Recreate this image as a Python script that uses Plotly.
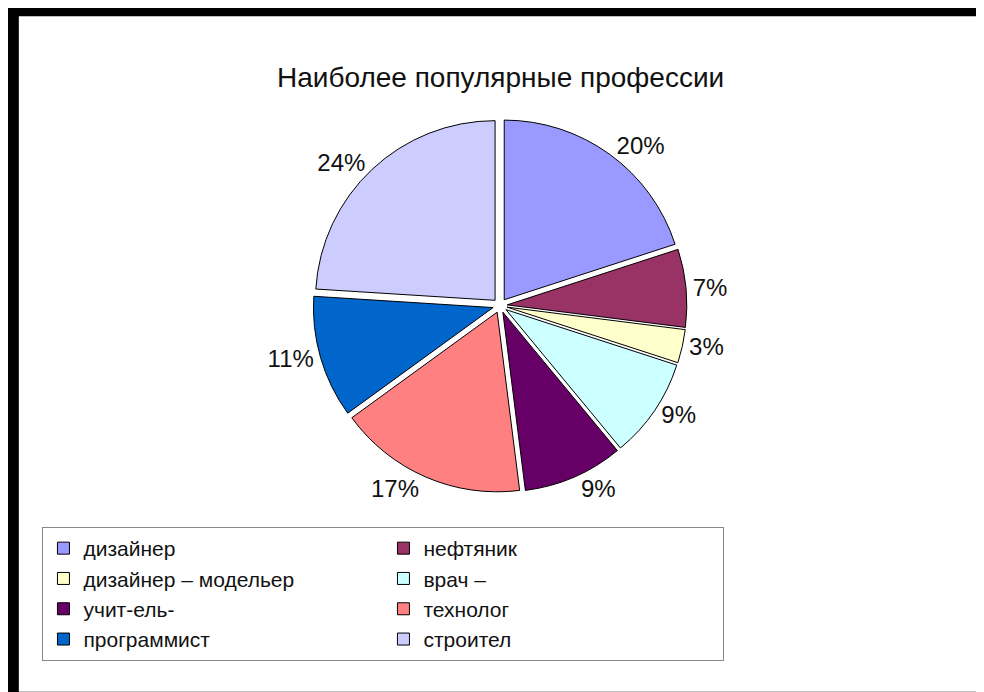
import plotly.graph_objects as go

labels = ["дизайнер", "нефтяник", "дизайнер – модельер", "врач –", "учит-ель-", "технолог", "программист", "строител"]
values = [20, 7, 3, 9, 9, 17, 11, 24]
colors = ["#9999FF", "#993366", "#FFFFCC", "#CCFFFF", "#660066", "#FF8080", "#0066CC", "#CCCCFF"]

fig = go.Figure(go.Pie(
    labels=labels, values=values, sort=False, direction="clockwise", rotation=0,
    marker=dict(colors=colors, line=dict(color="#000000", width=1)),
    textinfo="percent", textposition="outside", texttemplate="%{percent:.0%}",
    textfont=dict(size=24, color="#111"), pull=[0.04]*8,
    domain=dict(x=[0.2, 0.8], y=[0.3, 0.84]), showlegend=True,
))
fig.update_layout(
    width=984, height=692, margin=dict(l=0, r=0, t=0, b=0),
    paper_bgcolor="black", font=dict(family="Liberation Sans", color="#111"),
    annotations=[dict(text="Наиболее популярные профессии", x=0.5, y=0.9, xref="paper", yref="paper",
                      showarrow=False, font=dict(size=28), xanchor="center", yanchor="middle")],
    legend=dict(orientation="h", x=0.035, y=0.25, xanchor="left", yanchor="top",
                entrywidth=295, font=dict(size=21), bordercolor="#888", borderwidth=1,
                bgcolor="white", traceorder="normal"),
    shapes=[dict(type="rect", xref="paper", yref="paper", x0=0.011, y0=0.012, x1=0.989, y1=0.988,
                 fillcolor="white", line=dict(width=0), layer="below")],
)
fig.write_html("out.html")
